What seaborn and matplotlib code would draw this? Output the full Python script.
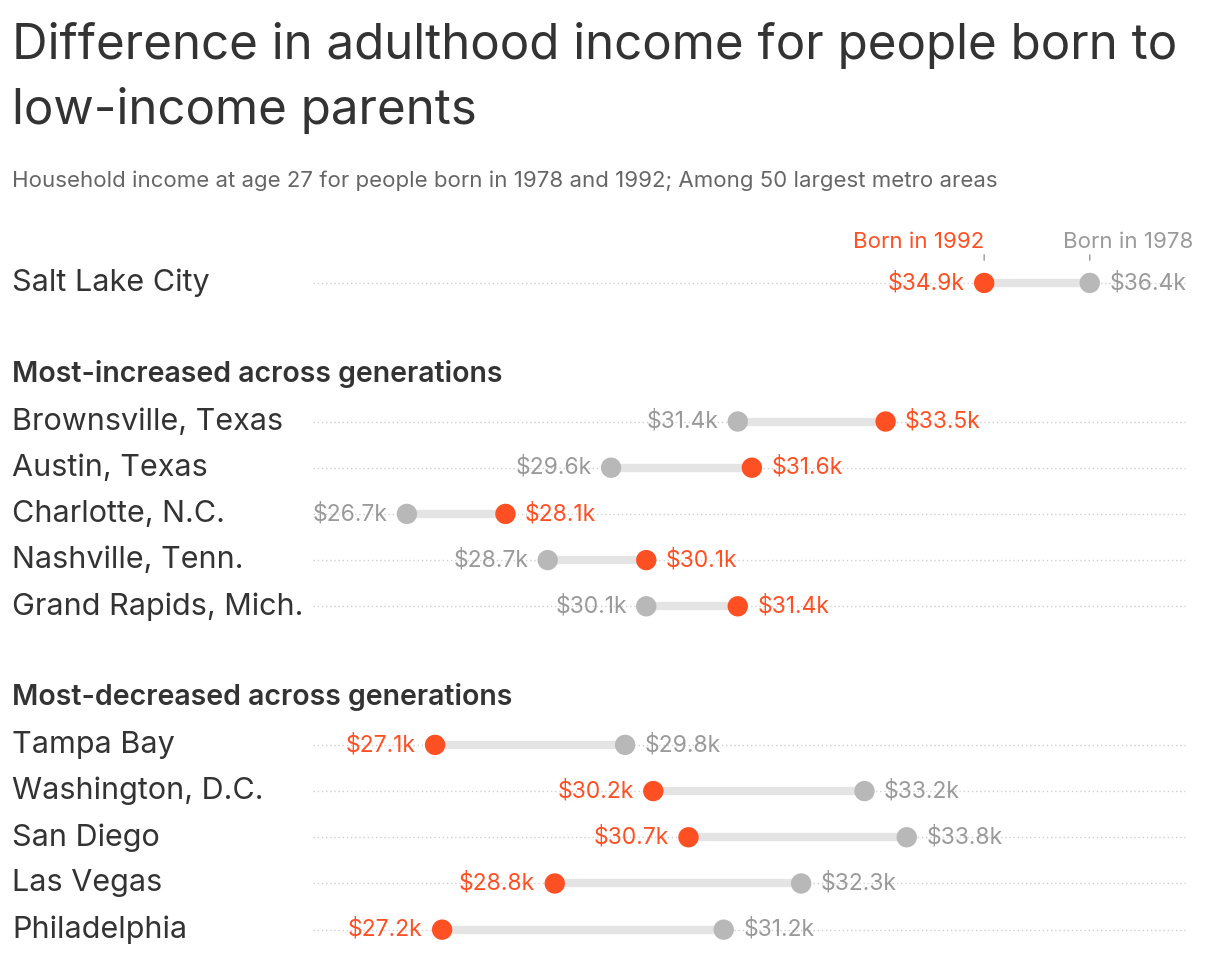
import seaborn as sns
import pandas as pd
import matplotlib.pyplot as plt

# Data: household income at age 27 ($k)
cities = ["Salt Lake City",
          "Brownsville, Texas", "Austin, Texas", "Charlotte, N.C.", "Nashville, Tenn.", "Grand Rapids, Mich.",
          "Tampa Bay", "Washington, D.C.", "San Diego", "Las Vegas", "Philadelphia"]
born_1978 = [36.4, 31.4, 29.6, 26.7, 28.7, 30.1, 29.8, 33.2, 33.8, 32.3, 31.2]
born_1992 = [34.9, 33.5, 31.6, 28.1, 30.1, 31.4, 27.1, 30.2, 30.7, 28.8, 27.2]
groups = ["top", "inc", "inc", "inc", "inc", "inc", "dec", "dec", "dec", "dec", "dec"]
headers = {"inc": "Most-increased across generations", "dec": "Most-decreased across generations"}

ORANGE = "#ff5024"
GRAY_DOT = "#b8b8b8"
GRAY_TXT = "#9a9a9a"
DARK = "#333333"
FONT = "Inter"

# row layout: a header slot (plus gap) before each new group
rows, header_rows, prev = [], {}, None
y = 0
for g in groups:
    if prev is not None and g != prev:
        header_rows[g] = y + 1.97
        y += 3
    elif prev is not None:
        y += 1
    rows.append(y)
    prev = g

df = pd.DataFrame({"city": cities, "y": rows, "1978": born_1978, "1992": born_1992})
long = df.melt(id_vars=["city", "y"], value_vars=["1978", "1992"], var_name="year", value_name="income")

sns.set_theme(style="white")
plt.rcParams["font.family"] = [FONT, "DejaVu Sans"]

fig = plt.figure(figsize=(12.2, 9.68), dpi=100)
ax = fig.add_axes([0, 0, 1, 1])
ax.set_xlim(20.92, 38.25)
ax.set_ylim(14.83, -6.125)
ax.axis("off")

# dotted guide lines
ax.hlines(df["y"], 25.37, 37.75, colors="#cfcfcf", linestyles=(0, (1, 2)), linewidth=1, zorder=1)
# connecting bars
ax.hlines(df["y"], df[["1978", "1992"]].min(axis=1), df[["1978", "1992"]].max(axis=1),
          colors="#e4e4e4", linewidth=6, zorder=2)
sns.scatterplot(data=long, x="income", y="y", hue="year", palette={"1978": GRAY_DOT, "1992": ORANGE},
                s=215, linewidth=0, legend=False, ax=ax, zorder=3)

for _, r in df.iterrows():
    for yr, col in (("1978", GRAY_TXT), ("1992", ORANGE)):
        v = r[yr]
        other = r["1992" if yr == "1978" else "1978"]
        left = v < other
        ax.annotate(f"${v:.1f}k", (v, r["y"]), xytext=(-14 if left else 14, 0), textcoords="offset points",
                    ha="right" if left else "left", va="center", fontsize=16.5, color=col, zorder=4)
    ax.text(0.0098, r["y"], r["city"], transform=ax.get_yaxis_transform(), ha="left", va="center",
            fontsize=22, color=DARK)

for g, hy in header_rows.items():
    ax.text(0.0098, hy, headers[g], transform=ax.get_yaxis_transform(), ha="left", va="center",
            fontsize=20.5, fontweight="semibold", color=DARK)

# legend labels above the first row
y0 = df["y"].iloc[0]
ax.annotate("Born in 1992", (born_1992[0], y0), xytext=(0, 22), textcoords="offset points",
            ha="right", va="bottom", fontsize=16, color=ORANGE)
ax.annotate("Born in 1978", (born_1978[0], y0), xytext=(28, 22), textcoords="offset points",
            ha="center", va="bottom", fontsize=16, color=GRAY_TXT)
for v in (born_1992[0], born_1978[0]):
    ax.annotate("", (v, y0 - 0.43), xytext=(v, y0 - 0.67),
                arrowprops=dict(arrowstyle="-", color="#999999", lw=1))

fig.text(0.0098, 1 - 22 / 968, "Difference in adulthood income for people born to\nlow-income parents",
         ha="left", va="top", fontsize=35.5, color=DARK, linespacing=1.5)
fig.text(0.0098, 1 - 181 / 968, "Household income at age 27 for people born in 1978 and 1992; Among 50 largest metro areas",
         ha="left", va="center", fontsize=16, color="#666666")

fig.savefig("out.png", dpi=100)
